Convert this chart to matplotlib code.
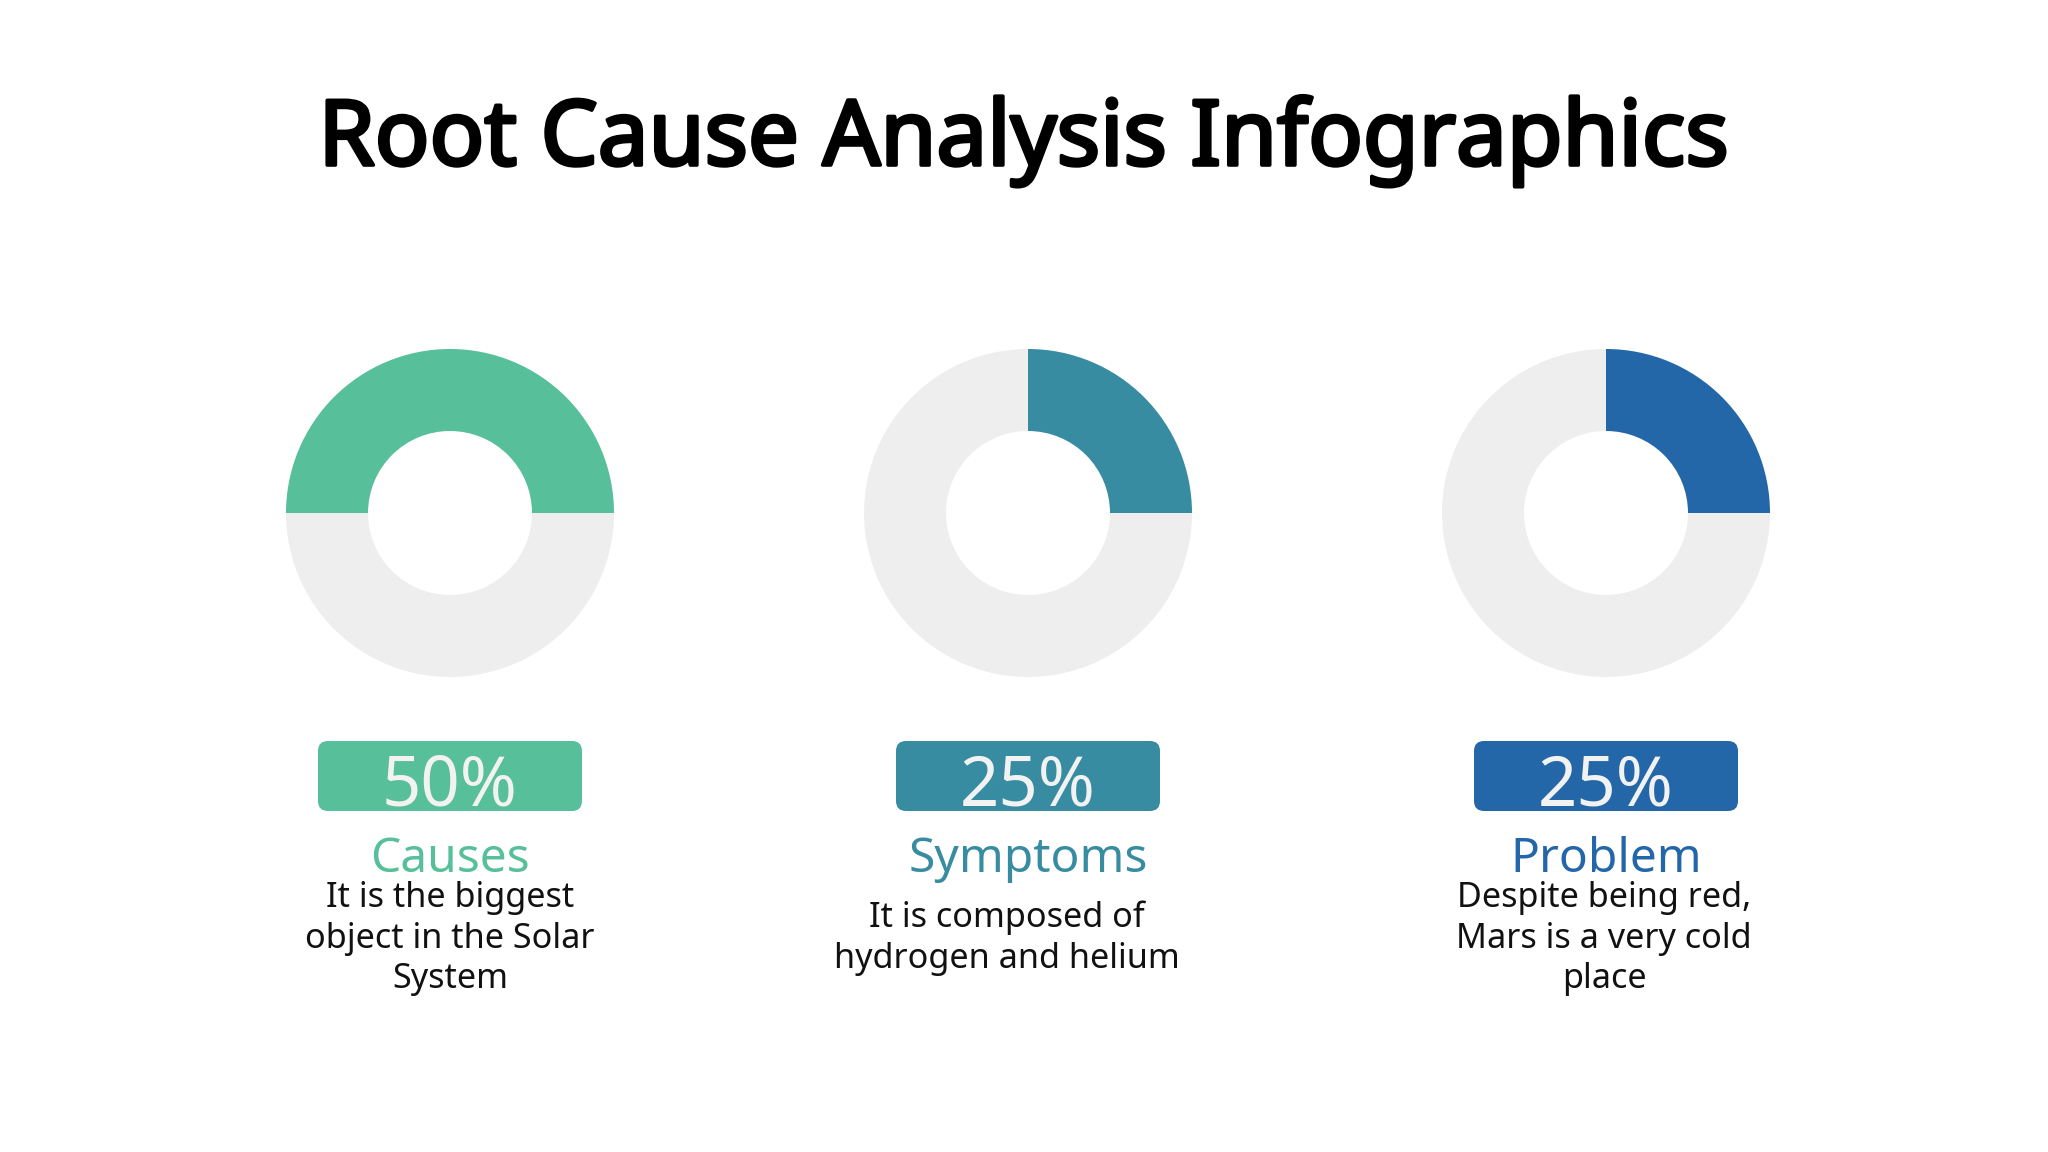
import matplotlib
matplotlib.use("Agg")
import matplotlib.pyplot as plt
from matplotlib.patches import FancyBboxPatch
import matplotlib.patheffects as pe

# ---- data ----
title = "Root Cause Analysis Infographics"
categories = ["Causes", "Symptoms", "Problem"]
percent_values = [50, 25, 25]
percent_labels = ["50%", "25%", "25%"]
descriptions = [
    ["It is the biggest", "object in the Solar", "System"],
    ["It is composed of", "hydrogen and helium"],
    ["Despite being red,", "Mars is a very cold", "place"],
]

# ---- style / layout ----
colors = ["#57BF99", "#388CA1", "#2467A8"]
track_color = "#EEEEEE"
label_text_color = "#F2F2F2"
centers_x = [450, 1028, 1606]
center_y = 513
outer_r = 164
ring_w = 82
desc_x = [450, 1007, 1604]
desc_first_baseline = [907, 927, 907]
line_step = 40.5

plt.rcParams["font.family"] = ["Noto Sans", "DejaVu Sans"]

fig = plt.figure(figsize=(20.48, 11.52), dpi=100)
ax = fig.add_axes([0, 0, 1, 1])

for i, (val, col) in enumerate(zip(percent_values, colors)):
    cx = centers_x[i]
    ax.pie([val, 100 - val], colors=[col, track_color], startangle=0,
           counterclock=False, radius=outer_r, center=(cx, center_y),
           wedgeprops=dict(width=ring_w, linewidth=0), frame=True)

ax.set_xlim(0, 2048)
ax.set_ylim(1152, 0)
ax.set_aspect("equal")
ax.axis("off")

ax.text(1024, 165, title, ha="center", va="baseline", fontsize=65.2,
        fontweight="bold", color="#000000",
        path_effects=[pe.withStroke(linewidth=2.6, foreground="#000000")])

box_w, box_h = 264, 70
box_top = 741
for i in range(3):
    cx = centers_x[i]
    box = FancyBboxPatch((cx - box_w / 2, box_top), box_w, box_h,
                         boxstyle="round,pad=0,rounding_size=10",
                         facecolor=colors[i], edgecolor="none")
    ax.add_patch(box)
    ax.text(cx, 805, percent_labels[i], ha="center", va="baseline",
            fontsize=49.5, color=label_text_color)
    ax.text(cx, 872, categories[i], ha="center", va="baseline",
            fontsize=34.5, color=colors[i])
    for j, line in enumerate(descriptions[i]):
        ax.text(desc_x[i], desc_first_baseline[i] + j * line_step, line,
                ha="center", va="baseline", fontsize=24.6, color="#111111")

fig.savefig("out.png", dpi=100, facecolor="white")
